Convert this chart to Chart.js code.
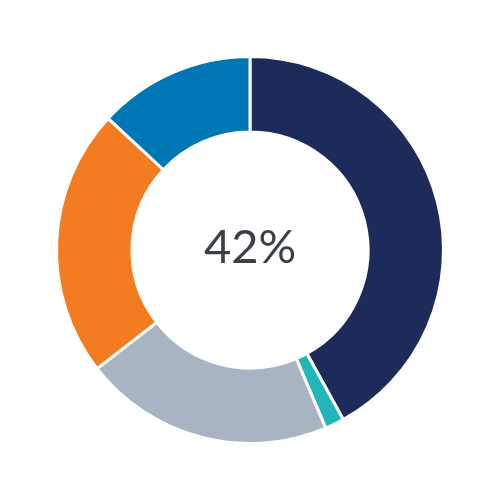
<!DOCTYPE html>
<html>
<head>
<meta charset="utf-8">
<script src="https://cdn.jsdelivr.net/npm/chart.js@4"></script>
<style>
  html, body { margin: 0; padding: 0; background: #ffffff; }
  #wrap { position: relative; width: 500px; height: 500px; }
</style>
</head>
<body>
<div id="wrap"><canvas id="chart" width="500" height="500"></canvas></div>
<script>
// segment data, clockwise from 12 o'clock
const labels = ['Navy', 'Teal', 'Gray', 'Orange', 'Blue'];
const values = [42, 1.6, 20.9, 22.4, 13.1];
const colors = ['#1c2b5a', '#21b6b9', '#a9b4c2', '#f37c20', '#0077b5'];
const centerText = '42%';

// draws the big label in the hole
const centerLabel = {
    id: 'centerLabel',
    afterDraw(chart) {
        const meta = chart.getDatasetMeta(0).data[0];
        const ctx = chart.ctx;
        ctx.save();
        ctx.fillStyle = '#3b4048';
        ctx.font = '400 47px Lato, "Open Sans", sans-serif';
        ctx.textAlign = 'center';
        ctx.textBaseline = 'middle';
        ctx.fillText(centerText, meta.x, meta.y - 2);
        ctx.restore();
    }
};

new Chart(document.getElementById('chart'), {
    type: 'doughnut',
    data: {
        labels: labels,
        datasets: [{
            data: values,
            backgroundColor: colors,
            borderColor: '#ffffff',
            borderWidth: 3
        }]
    },
    options: {
        responsive: false,
        animation: false,
        cutout: '61%',
        layout: { padding: 55 },
        plugins: {
            legend: { display: false },
            tooltip: { enabled: false }
        }
    },
    plugins: [centerLabel]
});
</script>
</body>
</html>
